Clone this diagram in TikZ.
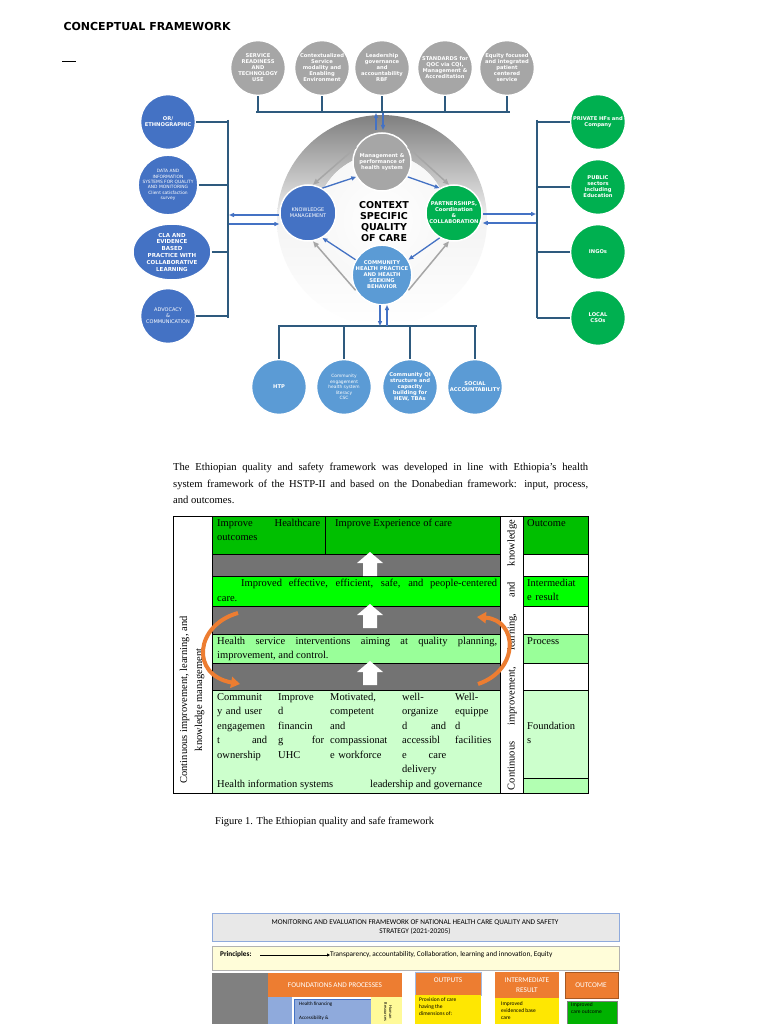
\documentclass[tikz,border=0pt]{standalone}
\usepackage{fontspec}
\setmainfont{Liberation Serif}
\newfontfamily\dv{DejaVu Sans}
\newfontfamily\cb{Carlito}
\usetikzlibrary{arrows.meta,shapes.geometric}
\definecolor{gc}{HTML}{A6A6A6}
\definecolor{bc}{HTML}{4472C4}
\definecolor{lbc}{HTML}{5B9BD5}
\definecolor{grn}{HTML}{00B050}
\definecolor{ln}{HTML}{2E5A7E}
\definecolor{ar}{HTML}{4472C4}
\definecolor{og}{HTML}{ED7D31}
\begin{document}
\begin{tikzpicture}[x=1pt,y=-1pt,
 circ/.style={circle,draw=white,line width=1.5pt,minimum size=#1,inner sep=0pt,align=center,text=white,font=\dv\bfseries\fontsize{5.2}{6}\selectfont},
 circ/.default=55pt,
 gcirc/.style={circ,fill=gc},
 bcirc/.style={circ,fill=bc},
 lcirc/.style={circ,fill=lbc},
 ncirc/.style={circ,fill=grn},
 brk/.style={draw=ln,line width=1.2pt},
 barr/.style={draw=ar,line width=1.3pt,-{Triangle[length=5pt,width=4pt]}},
 garr/.style={draw=gc,line width=1.5pt,-{Triangle[length=6pt,width=5pt]}},
 tt/.style={font=\fontsize{10.5}{14.5}\selectfont,inner sep=0pt,anchor=north west},
 cell/.style={draw=black,line width=0.4pt},
 wup/.style={fill=white,draw=none},
 mb/.style={font=\cb\fontsize{7.3}{9.5}\selectfont,inner sep=0pt,align=center},
]
\useasboundingbox (0,0) rectangle (768,1024);
\fill[white] (0,0) rectangle (768,1024);
\node[anchor=west,font=\dv\bfseries\fontsize{11}{12}\selectfont] (title) at (60,26) {CONCEPTUAL FRAMEWORK};
\draw (62,61) -- (76,61);
% background disc
\shade[inner color=white,outer color=white,middle color=gray!9] (382,220) circle (105);
\fill[white] (382,220) circle (66);
\shade[inner color=white,outer color=gray!6] (382,220) circle (66);
% top
\node[gcirc] (t1) at (258,68) {SERVICE\\READINESS\\AND\\TECHNOLOGY\\USE};
\node[gcirc] (t2) at (322,68) {Contextualized\\Service\\modality and\\Enabling\\Environment};
\node[gcirc] (t3) at (382,68) {Leadership\\governance\\and\\accountability\\RBF};
\node[gcirc] (t4) at (445,68) {STANDARDS for\\QOC via CQI,\\Management \&\\Accreditation};
\node[gcirc] (t5) at (507,68) {Equity focused\\and integrated\\patient\\centered\\service};
\coordinate (tbL) at (256,112); \coordinate (tbR) at (510,112);
\draw[brk] (tbL) -- (tbR);
\foreach \n in {t1,t2,t3,t4,t5}{\draw[brk] (\n.south) -- (\n.south|-tbL);}
% center
\node[gcirc,minimum size=58pt] (m) at (382,162) {Management \&\\performance of\\health system};
\node[bcirc,minimum size=56pt,font=\dv\fontsize{5}{6}\selectfont] (k) at (308,213) {KNOWLEDGE\\MANAGEMENT};
\node[ncirc,minimum size=56pt] (p) at (454,213) {PARTNERSHIPS,\\Coordination\\\&\\COLLABORATION};
\node[lcirc,minimum size=58pt] (c) at (382,275) {COMMUNITY\\HEALTH PRACTICE\\AND HEALTH\\SEEKING\\BEHAVIOR};
\node[font=\dv\bfseries\fontsize{9.5}{11}\selectfont,align=center] (ctx) at (384,222) {CONTEXT\\SPECIFIC\\QUALITY\\OF CARE};
\draw[garr] (m.150) -- (k.80);
\draw[garr] (m.30) -- (p.100);
\draw[garr] (c.210) -- (k.280);
\draw[garr] (c.-30) -- (p.-100);
\draw[barr] (k.60) -- (m.210);
\draw[barr] (m.330) -- (p.120);
\draw[barr] (p.240) -- (c.30);
\draw[barr] (c.150) -- (k.300);
\draw[barr] (376,130) -- (376,113);
\draw[barr] (383,113) -- (383,130);
% left
\node[bcirc] (l1) at (168,122) {OR/\\ETHNOGRAPHIC};
\node[bcirc,minimum size=57pt,font=\dv\fontsize{4.4}{5.4}\selectfont] (l2) at (168,185) {DATA AND\\INFORMATION\\SYSTEMS FOR QUALITY\\AND MONITORING\\Client satisfaction\\survey};
\node[ellipse,draw=white,line width=1.5pt,fill=bc,text=white,inner sep=0pt,align=center,minimum width=78pt,minimum height=56pt,font=\dv\bfseries\fontsize{5.5}{6.8}\selectfont] (l3) at (172,252) {CLA AND\\EVIDENCE\\BASED\\PRACTICE WITH\\COLLABORATIVE\\LEARNING};
\node[bcirc,font=\dv\fontsize{5}{6}\selectfont] (l4) at (168,316) {ADVOCACY\\\&\\COMMUNICATION};
\coordinate (lbT) at (228,120); \coordinate (lbB) at (228,318);
\draw[brk] (lbT) -- (lbB);
\foreach \n in {l1,l2,l3,l4}{\draw[brk] (\n.east) -- (\n.east-|lbT);}
\draw[barr] (k.west|-0,215) -- (229,215);
\draw[barr] (229,224) -- (k.west|-0,224);
% right
\node[ncirc] (r1) at (598,122) {PRIVATE HFs and\\Company};
\node[ncirc] (r2) at (598,187) {PUBLIC\\sectors\\including\\Education};
\node[ncirc] (r3) at (598,252) {INGOs};
\node[ncirc] (r4) at (598,318) {LOCAL\\CSOs};
\coordinate (rbT) at (537,120); \coordinate (rbB) at (537,318);
\draw[brk] (rbT) -- (rbB);
\foreach \n in {r1,r2,r3,r4}{\draw[brk] (\n.west) -- (\n.west-|rbT);}
\draw[barr] (p.east|-0,214) -- (536,214);
\draw[barr] (536,223) -- (p.east|-0,223);
% bottom
\node[lcirc] (b1) at (279,387) {HTP};
\node[lcirc,font=\dv\fontsize{4.4}{5.4}\selectfont] (b2) at (344,387) {Community\\engagement\\health system\\literacy\\CSC};
\node[lcirc] (b3) at (410,387) {Community QI\\structure and\\capacity\\building for\\HEW, TBAs};
\node[lcirc] (b4) at (475,387) {SOCIAL\\ACCOUNTABILITY};
\coordinate (bbL) at (278,326); \coordinate (bbR) at (477,326);
\draw[brk] (bbL) -- (bbR);
\foreach \n in {b1,b2,b3,b4}{\draw[brk] (\n.north) -- (\n.north|-bbL);}
\draw[barr] (380,305) -- (380,326);
\draw[barr] (387,326) -- (387,305);
% paragraph
\node[tt,align=left,font=\fontsize{10.6}{16.5}\selectfont] (para) at (173,463) {\makebox[415pt][s]{The Ethiopian quality and safety framework was developed in line with Ethiopia's health}\\\makebox[415pt][s]{system framework of the HSTP-II and based on the Donabedian framework: input, process,}\\and outcomes.};
% table
\fill[white] (173,516) rectangle (588,793);
\fill[green!75!black] (212,517) rectangle (500,554);
\fill[gray!90!black] (212,554) rectangle (500,576);
\fill[green] (212,576) rectangle (500,606);
\fill[gray!90!black] (212,606) rectangle (500,634);
\fill[green!40] (212,634) rectangle (500,663);
\fill[gray!90!black] (212,663) rectangle (500,690);
\fill[green!20] (212,690) rectangle (500,793);
\fill[green!75!black] (523,517) rectangle (588,554);
\fill[green] (523,576) rectangle (588,606);
\fill[green!40] (523,634) rectangle (588,663);
\fill[green!20] (523,690) rectangle (588,778);
\fill[green!30] (523,778) rectangle (588,793);
\draw[cell] (173,516) rectangle (588,793);
\draw[cell] (212,516) -- (212,793) (500,516) -- (500,793) (523,516) -- (523,793);
\draw[cell] (325,517) -- (325,554);
\foreach \y in {554,576,606,634,663,690}{\draw[cell] (212,\y) -- (500,\y); \draw[cell] (523,\y) -- (588,\y);}
\draw[cell] (523,778) -- (588,778);
\node[tt,text width=103pt,align=justify] (o1) at (217,519) {Improve\hfill Healthcare\\outcomes};
\node[tt] (o2) at (335,519) {Improve Experience of care};
\node[tt,align=left] (ir) at (217,579) {\makebox[280pt][s]{\hspace*{24pt}Improved effective, efficient, safe, and people-centered}\\care.};
\node[tt,align=left] (pr) at (217,637) {\makebox[280pt][s]{Health service interventions aiming at quality planning,}\\improvement, and control.};
\node[tt,text width=50pt,align=left] (f1) at (217,693) {Communit\\y and user\\engagemen\\t\hfill and\\ownership};
\node[tt,text width=46pt,align=left] (f2) at (278,693) {Improve\\d\\financin\\g\hfill for\\UHC};
\node[tt,text width=64pt,align=left] (f3) at (330,693) {Motivated,\\competent\\and\\compassionat\\e workforce};
\node[tt,text width=44pt,align=left] (f4) at (402,693) {well-\\organize\\d\hfill and\\accessibl\\e\hfill care\\delivery};
\node[tt,text width=42pt,align=left] (f5) at (455,693) {Well-\\equippe\\d\\facilities};
\node[tt] (f6) at (217,780) {Health information systems};
\node[tt] (f7) at (370,780) {leadership and governance};
\node[tt] (c1) at (527,519) {Outcome};
\node[tt,text width=62pt,align=left] (c2) at (527,579) {Intermediat\\e result};
\node[tt] (c3) at (527,637) {Process};
\node[tt,text width=62pt,align=left] (c4) at (527,722) {Foundation\\s};
\node[rotate=90,font=\fontsize{10.5}{15}\selectfont,align=center,inner sep=0pt] (lv) at (192,700) {Continuous improvement, learning, and\\knowledge management};
\node[rotate=90,font=\fontsize{10.5}{14}\selectfont,inner sep=0pt,text width=270pt,align=justify] (rv) at (512,655) {Continuous\hfill improvement,\hfill learning,\hfill and\hfill knowledge};
% white arrows
\foreach \y in {554,606,663}{\fill[wup] (363,\y+22) -- (363,\y+9) -- (357,\y+9) -- (370,\y-2) -- (383,\y+9) -- (377,\y+9) -- (377,\y+22) -- cycle;}
% orange curved arrows
\draw[og,line width=4pt,-{Triangle[length=9pt,width=11pt]}] (238,613) .. controls (195,625) and (190,675) .. (240,684);
\draw[og,line width=4pt,-{Triangle[length=9pt,width=11pt]}] (478,684) .. controls (520,670) and (518,620) .. (477,617);
\node[tt] (cap) at (215,817) {Figure 1. The Ethiopian quality and safe framework};
% M&E
\draw[fill=gray!18,draw=bc!60] (212,913) rectangle (619,941);
\node[mb] (met) at (415,927) {MONITORING AND EVALUATION FRAMEWORK OF NATIONAL HEALTH CARE QUALITY AND SAFETY\\STRATEGY (2021-20205)};
\draw[fill=yellow!15,draw=gray!60] (212,946) rectangle (619,970);
\node[mb,anchor=west] (pl) at (220,955) {\bfseries Principles:};
\coordinate (pa) at (260,955);
\node[mb,anchor=west] (pt) at (330,955) {Transparency, accountability, Collaboration, learning and innovation, Equity};
\draw[-{Triangle[length=3pt,width=3pt]},line width=0.8pt] (pa) -- (pt.west);
\fill[gray] (212,973) rectangle (268,1024);
\fill[og] (268,973) rectangle (402,997);
\node[mb,text=white] (fp) at (335,985) {FOUNDATIONS AND PROCESSES};
\fill[bc!60] (268,997) rectangle (292,1024);
\draw[fill=bc!60,draw=bc] (294,999) rectangle (371,1024);
\node[mb,anchor=west,font=\cb\fontsize{5}{6}\selectfont] (hf) at (299,1004) {Health financing};
\node[mb,anchor=west,font=\cb\fontsize{5}{6}\selectfont] (ac) at (299,1018) {Accessibility \&};
\fill[yellow!40] (371,997) rectangle (402,1024);
\node[mb,rotate=-90,font=\cb\fontsize{4.5}{5}\selectfont] (yq) at (388,1012) {Human\\Resources};
\draw[fill=og,draw=bc!50] (415,972) rectangle (481,995);
\node[mb,text=white] (out) at (448,980) {OUTPUTS};
\fill[yellow!90!orange] (415,995) rectangle (481,1024);
\node[mb,anchor=north west,align=left,font=\cb\fontsize{5.5}{7}\selectfont] (po) at (419,998) {Provision of care\\having the\\dimensions of:};
\fill[og] (495,972) rectangle (559,998);
\node[mb,text=white] (irr) at (527,985) {INTERMEDIATE\\RESULT};
\fill[yellow!90!orange] (495,998) rectangle (559,1024);
\node[mb,anchor=north west,align=left,font=\cb\fontsize{5.5}{7}\selectfont] (ie) at (501,1001) {Improved\\evidenced base\\care};
\draw[fill=og,draw=og!70!black] (565,972) rectangle (618,998);
\node[mb,text=white] (oc) at (591,985) {OUTCOME};
\draw[fill=green!50!black!60!green,draw=gray] (567,1001) rectangle (617,1024);
\node[mb,anchor=north west,align=left,font=\cb\fontsize{5.5}{7}\selectfont] (ic) at (571,1002) {Improved\\care outcome};
\end{tikzpicture}
\end{document}
